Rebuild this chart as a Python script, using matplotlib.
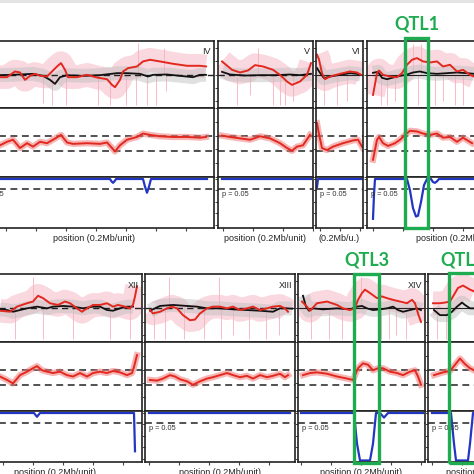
import matplotlib
matplotlib.use("Agg")
import matplotlib.pyplot as plt
import matplotlib.transforms as mtransforms
from matplotlib.patches import Rectangle
from matplotlib.ticker import MultipleLocator

plt.rcParams['font.family'] = ['Liberation Sans', 'DejaVu Sans']

# ---------------- chromosome IV ----------------
iv_red_x = [-6, 1, 9, 14, 19, 24, 29, 34, 41, 46, 51, 55, 59, 62, 71, 81, 91, 101, 106, 109, 114, 117, 122, 131, 137, 144, 154, 167, 181, 194, 200]
iv_red_y = [-0.08, -0.08, 0.09, 0.06, -0.16, -0.04, 0.02, -0.04, -0.06, 0.09, 0.24, 0.34, 0.14, -0.08, -0.08, -0.01, -0.09, -0.14, -0.31, -0.38, -0.16, 0.09, 0.19, 0.24, 0.39, 0.44, 0.39, 0.32, 0.26, 0.26, 0.24]
iv_blk_x = [-6, 4, 14, 27, 37, 44, 49, 54, 61, 77, 94, 111, 121, 134, 142, 147, 161, 174, 187, 194, 200]
iv_blk_y = [-0.02, -0.01, 0.0, 0.02, -0.04, -0.16, -0.28, -0.08, -0.02, -0.04, -0.02, 0.04, 0.04, 0.02, -0.06, -0.01, 0.0, -0.04, -0.08, -0.01, -0.01]
iv_mid_x = [-6, 1, 7, 14, 21, 27, 34, 41, 47, 55, 61, 67, 81, 94, 101, 106, 109, 114, 121, 131, 137, 144, 154, 167, 181, 194, 200]
iv_mid_y = [0.46, 0.51, 0.54, 0.42, 0.49, 0.44, 0.51, 0.49, 0.54, 0.61, 0.50, 0.48, 0.49, 0.48, 0.50, 0.42, 0.37, 0.46, 0.54, 0.58, 0.63, 0.61, 0.59, 0.58, 0.58, 0.57, 0.58]
iv_blue_x = [-33, 104, 105.5, 107, 108.5, 110, 137, 139, 141, 143, 145, 201]
iv_blue_y = [0, 0, -0.3, -0.5, -0.3, 0, 0, -1.0, -1.8, -1.0, 0, 0]
iv_spike_x = [37, 46, 60, 92, 104, 120, 130, 141, 150, 160, 132, 158]
iv_spike_y = [-0.85, -0.9, -0.9, -0.9, -0.9, -0.9, -0.9, -0.9, -0.9, -0.5, 0.95, 0.8]

# ---------------- chromosome V ----------------
v_red_x = [-1, 3, 9, 17, 25, 32, 40, 50, 57, 64, 69, 77, 84, 88]
v_red_y = [0.39, 0.29, 0.14, 0.06, 0.12, 0.28, 0.24, 0.14, -0.01, -0.21, -0.31, -0.21, -0.01, 0.34]
v_blk_x = [-1, 7, 22, 37, 52, 67, 77, 88]
v_blk_y = [0.08, 0.0, -0.03, -0.02, -0.02, 0.0, -0.02, 0.02]
v_mid_x = [-1, 7, 17, 27, 37, 47, 57, 64, 69, 74, 80, 87]
v_mid_y = [0.60, 0.58, 0.56, 0.54, 0.59, 0.56, 0.49, 0.42, 0.38, 0.44, 0.46, 0.61]
v_blue_x = [-1, 88]
v_blue_y = [0, 0]
v_spike_x = [14, 27, 50, 57, 62, 70, 35]
v_spike_y = [-0.9, -0.6, -0.9, -0.9, -0.9, -0.8, 0.8]

# ---------------- chromosome VI ----------------
vi_red_x = [-3, -1, 2, 5, 10, 20, 30, 37, 41]
vi_red_y = [0.59, 0.45, 0.04, -0.14, -0.06, 0.02, 0.09, 0.06, -0.01]
vi_blk_x = [-3, 0, 4, 10, 20, 30, 37, 41]
vi_blk_y = [0.19, 0.05, -0.11, -0.06, -0.01, 0.04, 0.02, -0.01]
vi_mid_x = [-3, -1, 2, 7, 13, 23, 33, 38, 42]
vi_mid_y = [0.78, 0.62, 0.42, 0.39, 0.44, 0.49, 0.53, 0.54, 0.44]
vi_blue_x = [-3, -2, 42]
vi_blue_y = [-1.05, 0, 0]
vi_spike_x = [4, 17, 27]
vi_spike_y = [-0.9, -0.9, -0.8]

# ---------------- chromosome with QTL1 ----------------
q1_red_x = [0, 4, 6, 10, 17, 24, 29, 34, 39, 44, 50, 57, 64, 70, 77, 84, 90, 97, 101]
q1_red_y = [-0.61, 0.04, 0.12, -0.01, -0.06, -0.08, 0.04, 0.29, 0.44, 0.49, 0.39, 0.36, 0.39, 0.24, 0.29, 0.09, 0.14, -0.01, -0.06]
q1_blk_x = [0, 5, 9, 14, 24, 34, 40, 47, 54, 64, 74, 84, 94, 101]
q1_blk_y = [0.05, 0.08, -0.1, -0.14, -0.06, 0.0, 0.06, 0.09, 0.04, 0.02, 0.04, 0.06, 0.04, 0.02]
q1_mid_x = [0, 4, 6, 10, 15, 22, 27, 32, 37, 44, 50, 57, 64, 70, 77, 84, 90, 99]
q1_mid_y = [0.25, 0.54, 0.58, 0.49, 0.45, 0.49, 0.54, 0.61, 0.67, 0.66, 0.63, 0.61, 0.63, 0.57, 0.58, 0.51, 0.57, 0.49]
q1_blue_x = [0, 1, 2, 34, 37, 40, 43, 45, 48, 51, 54, 58, 60, 62, 64, 66, 101]
q1_blue_y = [-5.2, -2.0, 0, 0, -1.5, -3.8, -4.9, -4.8, -3.0, -0.8, 0, 0, -0.4, -0.5, -0.3, 0, 0]
q1_spike_x = [8, 14, 22, 45, 55, 62, 70, 82, 90, 40, 48]
q1_spike_y = [-0.9, -0.9, -0.8, -0.9, -0.9, -0.9, -0.8, -0.9, -0.9, 0.9, 0.9]

# ---------------- chromosome XII ----------------
xii_red_x = [-3, 7, 14, 24, 30, 35, 40, 47, 55, 62, 67, 74, 79, 84, 90, 97, 104, 110, 115, 122, 127, 130, 132, 134]
xii_red_y = [-0.08, -0.11, 0.04, 0.14, 0.19, 0.36, 0.29, 0.14, 0.09, 0.19, 0.14, -0.01, -0.11, -0.01, 0.09, 0.09, 0.14, 0.04, 0.09, 0.04, -0.01, 0.09, 0.34, 0.64]
xii_blk_x = [-3, 4, 10, 17, 24, 34, 44, 50, 60, 70, 80, 90, 97, 104, 110, 117, 124, 130]
xii_blk_y = [-0.04, -0.06, -0.11, -0.06, -0.01, 0.04, -0.01, 0.04, 0.06, 0.04, -0.01, 0.04, 0.04, -0.06, -0.08, -0.01, 0.04, 0.04]
xii_mid_x = [-3, 4, 10, 17, 24, 30, 34, 39, 44, 50, 57, 64, 70, 77, 84, 90, 97, 104, 110, 117, 124, 129, 131, 134]
xii_mid_y = [0.50, 0.45, 0.40, 0.52, 0.57, 0.62, 0.65, 0.59, 0.57, 0.55, 0.57, 0.52, 0.50, 0.55, 0.50, 0.55, 0.57, 0.55, 0.58, 0.56, 0.52, 0.55, 0.64, 0.81]
xii_blue_x = [-38, 31, 34, 37, 131, 132]
xii_blue_y = [0, 0, -0.5, 0, 0, -5.0]
xii_spike_x = [12, 40, 70, 107, 127, 30]
xii_spike_y = [-0.9, -0.9, -0.9, -0.9, -0.9, 0.9]

# ---------------- chromosome XIII ----------------
xiii_red_x = [1, 4, 11, 18, 23, 28, 34, 41, 46, 51, 58, 64, 71, 78, 84, 91, 98, 104, 111, 118, 124, 131, 136, 139]
xiii_red_y = [-0.06, -0.16, -0.11, -0.01, 0.04, -0.01, -0.21, -0.36, -0.34, -0.16, -0.01, 0.04, 0.04, -0.01, 0.04, -0.06, -0.01, 0.04, -0.06, -0.01, 0.04, 0.06, -0.01, -0.11]
xiii_blk_x = [1, 6, 11, 24, 38, 48, 58, 71, 84, 98, 111, 124, 131, 138, 143]
xiii_blk_y = [-0.08, -0.01, 0.06, 0.09, 0.06, 0.04, -0.01, -0.01, -0.04, -0.06, -0.08, -0.11, -0.01, -0.01, -0.02]
xiii_mid_x = [1, 8, 14, 21, 26, 31, 38, 44, 51, 58, 64, 71, 78, 84, 91, 98, 104, 111, 118, 124, 131, 136, 139]
xiii_mid_y = [0.45, 0.44, 0.47, 0.52, 0.50, 0.46, 0.43, 0.38, 0.43, 0.47, 0.49, 0.52, 0.55, 0.52, 0.49, 0.51, 0.47, 0.52, 0.49, 0.51, 0.54, 0.49, 0.52]
xiii_blue_x = [0, 141]
xiii_blue_y = [0, 0]
xiii_spike_x = [5, 16, 35, 55, 72, 84, 100, 117, 130, 20, 70]
xiii_spike_y = [-0.9, -0.9, -0.9, -0.9, -0.9, -0.8, -0.9, -0.9, -0.8, 0.9, 0.9]

# ---------------- chromosome XIV (QTL3) ----------------
xiv_red_x = [1, 6, 9, 16, 26, 36, 42, 49, 54, 57, 61, 64, 69, 76, 81, 86, 92, 99, 106, 111, 114, 117, 120]
xiv_red_y = [0.19, 0.04, -0.08, 0.14, 0.19, 0.09, -0.01, -0.06, -0.01, 0.24, 0.44, 0.54, 0.44, 0.29, 0.34, 0.29, 0.24, 0.19, 0.14, 0.24, 0.14, -0.16, -0.41]
xiv_blk_x = [2, 5, 8, 12, 22, 36, 49, 56, 61, 66, 72, 79, 86, 92, 97, 102, 109, 116, 120]
xiv_blk_y = [0.36, 0.04, -0.08, -0.01, -0.04, -0.01, -0.04, 0.04, 0.06, -0.01, -0.06, -0.04, -0.01, 0.04, -0.06, -0.11, -0.06, -0.01, -0.06]
xiv_mid_x = [2, 9, 16, 26, 36, 46, 52, 57, 62, 67, 72, 77, 82, 89, 96, 102, 109, 114, 117, 120]
xiv_mid_y = [0.52, 0.55, 0.56, 0.54, 0.50, 0.47, 0.45, 0.62, 0.69, 0.67, 0.59, 0.62, 0.62, 0.57, 0.55, 0.52, 0.57, 0.59, 0.50, 0.38]
xiv_blue_x = [0, 53, 56, 59, 69, 72, 75, 79, 83, 87, 122]
xiv_blue_y = [0, 0, -4, -6.2, -6.2, -4, 0, 0, -0.6, 0, 0]
xiv_spike_x = [10, 28, 41, 80, 88, 95, 105, 60]
xiv_spike_y = [-0.9, -0.9, -0.9, -0.9, -0.9, -0.8, -0.9, 0.9]

# ---------------- chromosome with QTL4 ----------------
q4_red_x = [1, 8, 13, 18, 21, 26, 31, 38, 42]
q4_red_y = [0.14, 0.14, 0.16, 0.19, 0.34, 0.59, 0.66, 0.54, 0.49]
q4_blk_x = [2, 8, 15, 20, 25, 30, 33, 38, 42]
q4_blk_y = [-0.06, -0.21, -0.21, -0.11, 0.04, 0.16, 0.09, -0.01, -0.01]
q4_mid_x = [2, 11, 18, 23, 28, 33, 38, 42]
q4_mid_y = [0.52, 0.56, 0.58, 0.67, 0.76, 0.68, 0.62, 0.59]
q4_blue_x = [0, 19, 22, 24, 36, 38, 41, 50]
q4_blue_y = [0, 0, -4, -6.2, -6.2, -4, 0, 0]
q4_spike_x = [5, 14]
q4_spike_y = [-0.9, -0.9]

# QTL windows (in the position units of the panel they sit in)
qtl_names = ["QTL1", "QTL3", "QTL4"]
qtl_start = [32, 53, 17]
qtl_end = [55, 78, 45]

W = 474
TOP_ROW = (41, 108, 177, 228)
BOT_ROW = (274, 342, 411, 462)
RED = '#e3291f'
PINK = '#f6b3c0'
BLUE = '#2236c4'
GREEN = '#1fab4f'
XLAB = "position (0.2Mb/unit)"

fig = plt.figure(figsize=(4.74, 4.74), dpi=100)
# thin grey strip along the top edge of the crop
fig.add_artist(Rectangle((0, 1 - 2.5 / W), 1, 2.5 / W, transform=fig.transFigure,
                         color='#e4e4e4', lw=0))


def add_panel(row, left, right, x0, label, red, blk, mid, blue, spikes,
              xlabel=XLAB, solid_ref=False, tick_step=30):
    axs = []
    ylims = [(-1, 1), (0, 1), (-6.4, 0.26)]
    for i in range(3):
        top, bot = row[i], row[i + 1]
        ax = fig.add_axes([left / W, 1 - bot / W, (right - left) / W, (bot - top) / W])
        ax.set_xlim(left - x0, right - x0)
        ax.set_ylim(*ylims[i])
        for s in ax.spines.values():
            s.set_linewidth(1.2)
            s.set_color('#222222')
        ax.tick_params(axis='y', direction='out', length=2, width=0.7,
                       labelleft=False, color='#444444')
        ax.tick_params(axis='x', bottom=False, labelbottom=False)
        axs.append(ax)
    top_ax, mid_ax, bot_ax = axs
    top_ax.yaxis.set_major_locator(MultipleLocator(0.4))
    mid_ax.yaxis.set_major_locator(MultipleLocator(0.2))
    bot_ax.yaxis.set_major_locator(MultipleLocator(1.5))

    # top: expression ratios with scatter clouds
    top_ax.vlines(spikes[0], 0, spikes[1], color=PINK, lw=0.7, alpha=0.9)
    top_ax.plot(red[0], red[1], color=PINK, lw=17, alpha=0.5,
                solid_joinstyle='round', solid_capstyle='butt')
    top_ax.plot(blk[0], blk[1], color='#bcbcbc', lw=10, alpha=0.45,
                solid_joinstyle='round', solid_capstyle='butt')
    if solid_ref:
        top_ax.axhline(0, color='#222222', lw=0.8)
    else:
        top_ax.axhline(0, color='#222222', lw=1.0, dashes=(4.5, 3))
    top_ax.plot(blk[0], blk[1], color='#111111', lw=1.3)
    top_ax.plot(red[0], red[1], color=RED, lw=1.4)
    top_ax.annotate(label, xy=(1, 1), xycoords='axes fraction',
                    xytext=(-3, -11), textcoords='offset pixels',
                    ha='right', va='center', fontsize=6.5, color='#222222')

    # middle: smoothed allele frequency
    for lvl in (0.6, 0.38):
        mid_ax.axhline(lvl, color='#222222', lw=1.1, dashes=(4.5, 3))
    mid_ax.plot(mid[0], mid[1], color='#f07a7a', lw=4.5, alpha=0.55,
                solid_joinstyle='round')
    mid_ax.plot(mid[0], mid[1], color=RED, lw=1.4)

    # bottom: p-value trace
    bot_ax.axhline(-1.3, color='#222222', lw=1.1, dashes=(4.5, 3))
    bot_ax.plot(blue[0], blue[1], color=BLUE, lw=1.6)
    xl = bot_ax.get_xlim()
    bot_ax.text(xl[0] + 4, -1.6, "p = 0.05", fontsize=5.3, va='top',
                ha='left', color='#333333')
    bot_ax.xaxis.set_major_locator(MultipleLocator(tick_step))
    bot_ax.tick_params(axis='x', bottom=True, direction='out', length=2.5,
                       width=0.8, color='#444444')
    bot_ax.set_xlabel(xlabel, fontsize=6.5, labelpad=1.5, color='#222222')
    return axs


p_iv = add_panel(TOP_ROW, -27, 214, 6, "IV", (iv_red_x, iv_red_y), (iv_blk_x, iv_blk_y),
                 (iv_mid_x, iv_mid_y), (iv_blue_x, iv_blue_y), (iv_spike_x, iv_spike_y))
p_v = add_panel(TOP_ROW, 218, 313, 223, "V", (v_red_x, v_red_y), (v_blk_x, v_blk_y),
                (v_mid_x, v_mid_y), (v_blue_x, v_blue_y), (v_spike_x, v_spike_y))
p_vi = add_panel(TOP_ROW, 316, 363, 320, "VI", (vi_red_x, vi_red_y), (vi_blk_x, vi_blk_y),
                 (vi_mid_x, vi_mid_y), (vi_blue_x, vi_blue_y), (vi_spike_x, vi_spike_y),
                 xlabel="(0.2Mb/u.)", solid_ref=True, tick_step=20)
p_q1 = add_panel(TOP_ROW, 367, 547, 373, "", (q1_red_x, q1_red_y), (q1_blk_x, q1_blk_y),
                 (q1_mid_x, q1_mid_y), (q1_blue_x, q1_blue_y), (q1_spike_x, q1_spike_y),
                 solid_ref=True)
p_xii = add_panel(BOT_ROW, -32, 142, 3, "XII", (xii_red_x, xii_red_y), (xii_blk_x, xii_blk_y),
                  (xii_mid_x, xii_mid_y), (xii_blue_x, xii_blue_y), (xii_spike_x, xii_spike_y))
p_xiii = add_panel(BOT_ROW, 145, 295, 149, "XIII", (xiii_red_x, xiii_red_y), (xiii_blk_x, xiii_blk_y),
                   (xiii_mid_x, xiii_mid_y), (xiii_blue_x, xiii_blue_y), (xiii_spike_x, xiii_spike_y))
p_xiv = add_panel(BOT_ROW, 298, 425, 301, "XIV", (xiv_red_x, xiv_red_y), (xiv_blk_x, xiv_blk_y),
                  (xiv_mid_x, xiv_mid_y), (xiv_blue_x, xiv_blue_y), (xiv_spike_x, xiv_spike_y),
                  solid_ref=True)
p_q4 = add_panel(BOT_ROW, 428, 547, 432, "", (q4_red_x, q4_red_y), (q4_blk_x, q4_blk_y),
                 (q4_mid_x, q4_mid_y), (q4_blue_x, q4_blue_y), (q4_spike_x, q4_spike_y),
                 solid_ref=True)

# green QTL windows spanning the three tracks
qtl_axes = [p_q1[2], p_xiv[2], p_q4[2]]
qtl_rows = [(38, 228), (274, 463), (273, 463)]
for name, ax, x_a, x_b, (ytop, ybot) in zip(qtl_names, qtl_axes, qtl_start, qtl_end, qtl_rows):
    trans = mtransforms.blended_transform_factory(ax.transData, fig.transFigure)
    rect = Rectangle((x_a, 1 - ybot / W), x_b - x_a, (ybot - ytop) / W,
                     transform=trans, fill=False, ec=GREEN, lw=2.4, zorder=20)
    fig.add_artist(rect)
    fig.text((x_a + x_b) / 2, 1 - (ytop - 8) / W, name, transform=trans,
             ha='center', va='baseline', fontsize=13, fontweight='bold',
             color=GREEN, family=['Lato', 'DejaVu Sans'], zorder=20)

fig.savefig("out.png", dpi=100)
